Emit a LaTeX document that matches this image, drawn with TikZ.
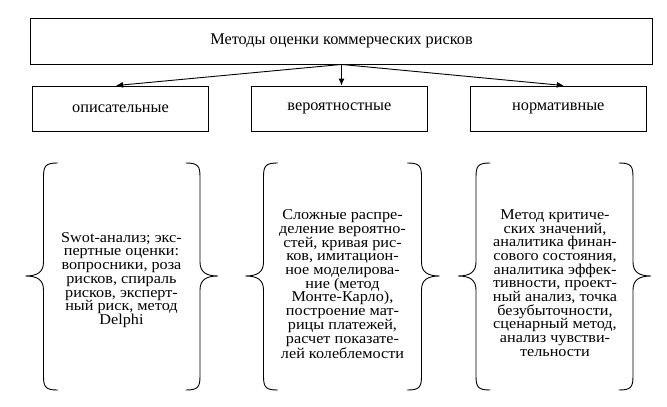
\documentclass[tikz,border=0pt]{standalone}
\usepackage{fontspec}
\setmainfont{Liberation Serif}
\newfontfamily\bodyfont{Liberation Serif}[FakeStretch=1.08]
\usetikzlibrary{arrows.meta,calc}
\tikzset{
  boxstyle/.style={draw, line width=0.9pt, inner sep=0pt, font=\fontsize{16.3}{18}\selectfont},
  arrowstyle/.style={line width=0.9pt, -{Latex[length=7pt,width=6pt]}},
  bracestyle/.style={line width=0.9pt, line cap=round},
  txtstyle/.style={align=center, inner sep=0pt, font=\bodyfont\fontsize{15}{13.7}\selectfont}
}
\newcommand\mkbrace[2]{%
  \draw[bracestyle] ({#1+14*(#2)},163) .. controls ({#1+2*(#2)},163) and (#1,166) .. (#1,177)
    -- (#1,262) .. controls (#1,272) and ({#1-6*(#2)},276) .. ({#1-18*(#2)},276)
    .. controls ({#1-6*(#2)},276) and (#1,280) .. (#1,290)
    -- (#1,376) .. controls (#1,387) and ({#1+2*(#2)},390) .. ({#1+14*(#2)},390);}
\begin{document}
\begin{tikzpicture}[x=1pt,y=-1pt]
\useasboundingbox (0,0) rectangle (667,407);
\node[boxstyle, minimum width=622.5pt, minimum height=46pt] (top) at (341.5,41) {Методы оценки коммерческих рисков};
\node[boxstyle, minimum width=175.6pt, minimum height=45pt] (d1) at (120.5,108.5) {описательные};
\node[boxstyle, minimum width=176.7pt, minimum height=45pt] (d2) at (339.4,108.5) {вероятностные};
\node[boxstyle, minimum width=176.5pt, minimum height=45pt] (d3) at (558.3,108.5) {нормативные};
\draw[arrowstyle] (top.south) -- ([xshift=-4.5pt]d1.north);
\draw[arrowstyle] (top.south) -- ([xshift=2.1pt]d2.north);
\draw[arrowstyle] (top.south) -- ([xshift=5.5pt]d3.north);
\mkbrace{43.5}{1}
\mkbrace{200}{-1}
\mkbrace{263.5}{1}
\mkbrace{421.5}{-1}
\mkbrace{476}{1}
\mkbrace{633}{-1}
\node[txtstyle] (t1) at (121.5,280) {Swot-анализ; экс-\\пертные оценки:\\вопросники, роза\\рисков, спираль\\рисков, эксперт-\\ный риск, метод\\Delphi};
\node[txtstyle] (t2) at (342.5,284) {Сложные распре-\\деление вероятно-\\стей, кривая рис-\\ков, имитацион-\\ное моделирова-\\ние (метод\\Монте-Карло),\\построение мат-\\рицы платежей,\\расчет показате-\\лей колеблемости};
\node[txtstyle] (t3) at (555,283) {Метод критиче-\\ских значений,\\аналитика финан-\\сового состояния,\\аналитика эффек-\\тивности, проект-\\ный анализ, точка\\безубыточности,\\сценарный метод,\\анализ чувстви-\\тельности};
\end{tikzpicture}
\end{document}
